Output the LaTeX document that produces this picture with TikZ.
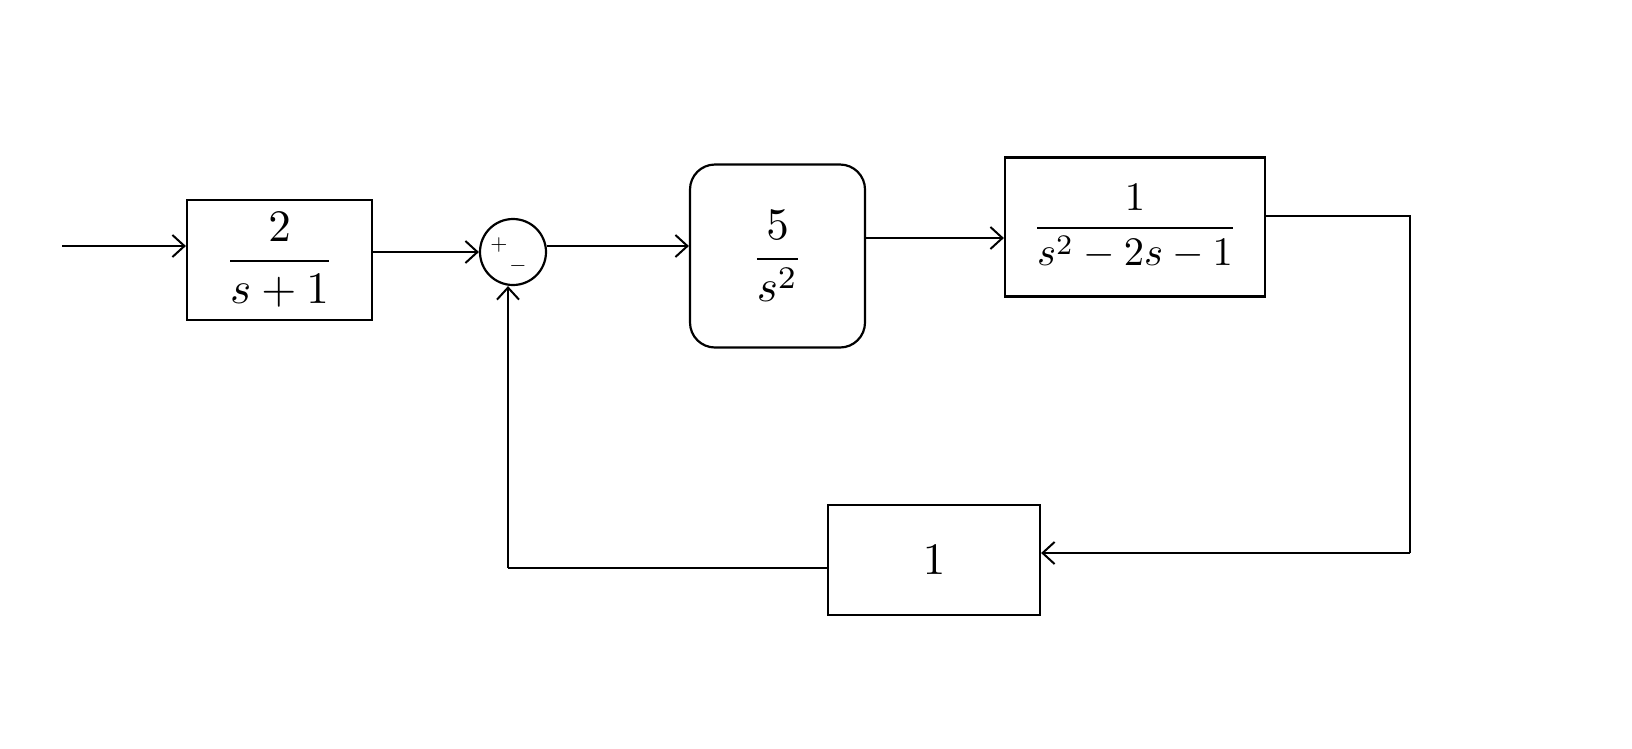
\documentclass[tikz,border=0pt]{standalone}
\usepackage{amsmath}
\usepackage{graphicx}
\usetikzlibrary{arrows.meta}
\newcommand{\bigtxt}[1]{\scalebox{4.5}{$\displaystyle #1$}}
\begin{document}
\begin{tikzpicture}[x=1pt,y=-1pt,
  blk/.style={draw,line width=2.2pt,inner sep=0pt},
  sig/.style={line width=2.2pt,-{Straight Barb[length=12pt,width=22pt,line width=2pt]}},
  ln/.style={line width=2.2pt}]
\useasboundingbox (0,0) rectangle (1632,748);
\node[blk,minimum width=185pt,minimum height=120pt] (b1) at (279.5,260) {\bigtxt{\frac{2}{s+1}}};
\node[draw,circle,line width=2.2pt,minimum size=66pt,inner sep=0pt] (sum) at (513,252) {};
\node[scale=2.2] at (499,245) {$+$};
\node[scale=2.2] at (518,266) {$-$};
\node[blk,minimum width=175pt,minimum height=183pt,rounded corners=25pt] (b2) at (777.5,256) {\bigtxt{\frac{5}{s^{2}}}};
\node[blk,minimum width=260pt,minimum height=139pt] (b3) at (1135,227) {\scalebox{0.9}{\bigtxt{\frac{1}{s^{2}-2s-1}}}};
\node[blk,minimum width=212pt,minimum height=110pt] (b4) at (934,560) {\bigtxt{1}};
\coordinate (in) at (62,246);
\coordinate (c1) at (1410,216);
\coordinate (c2) at (1410,553);
\coordinate (c3) at (508,568);
\draw[sig] (in) -- (in -| b1.west);
\draw[sig] (b1.east |- 0,252) -- (sum.west |- 0,252);
\draw[sig] (sum.east |- 0,246) -- (b2.west |- 0,246);
\draw[sig] (b2.east |- 0,238) -- (b3.west |- 0,238);
\draw[ln] (b3.east |- c1) -- (c1) -- (c2);
\draw[sig] (c2) -- (c2 -| b4.east);
\draw[ln] (b4.west |- c3) -- (c3);
\draw[sig] (c3) -- (sum.south -| c3);
\end{tikzpicture}
\end{document}
